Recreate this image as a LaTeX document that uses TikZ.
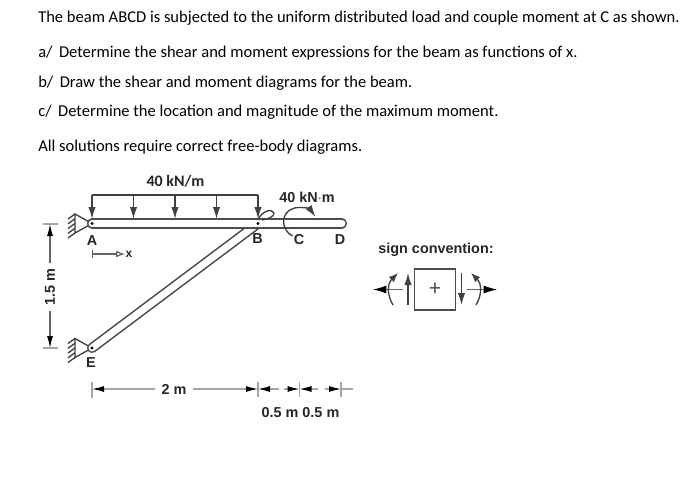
\documentclass[tikz,border=0pt]{standalone}
\usepackage{fontspec}
\setmainfont{Carlito}
\newfontfamily\labelfont{Liberation Sans}
\usetikzlibrary{arrows.meta}
\begin{document}
\begin{tikzpicture}[x=.75pt,y=-.75pt,>={Latex[length=9pt,width=5.5pt]},
  line/.style={draw=black!75,line width=1pt},
  dim/.style={draw=black!35,line width=.8pt},
  dimarrow/.style={draw=black!35,line width=.8pt,->,>={Latex[length=9pt,width=4.5pt,black]}},
  member/.style={draw=black!70,line width=1.2pt,double=white,double distance=5.2pt,line cap=round},
  pin/.style={circle,fill=black,inner sep=0pt,minimum size=2.6pt},
  para/.style={anchor=west,inner sep=0pt,font=\fontsize{12.4pt}{15pt}\selectfont},
  lab/.style={inner sep=0pt,font=\labelfont\bfseries\fontsize{10.8pt}{12pt}\selectfont,text=black!85}]
  \useasboundingbox (0,0) rectangle (700,482);
  \fill[white] (0,0) rectangle (700,482);
  \node[para] (title) at (38,18) {The beam ABCD is subjected to the uniform distributed load and couple moment at C as shown.};
  \node[para] (parta) at (38,53.5) {a/\, Determine the shear and moment expressions for the beam as functions of x.};
  \node[para] (partb) at (38,83) {b/\, Draw the shear and moment diagrams for the beam.};
  \node[para] (partc) at (38,112) {c/\, Determine the location and magnitude of the maximum moment.};
  \node[para] (note) at (38,147.5) {All solutions require correct free-body diagrams.};
  \node[pin] (A) at (92,223.5) {};
  \node[pin] (B) at (258,223.5) {};
  \node[pin] (E) at (92,348) {};
  \coordinate (D) at (342,223.5);
  \foreach \pt/\y in {A/214,E/338.5}{
    \coordinate (\pt top) at (75,\y);
    \coordinate (\pt bot) at (75,\y+19);
    \draw[line] (\pt top) -- (\pt.center) -- (\pt bot) -- cycle;
    \foreach \k in {0,4.75,9.5,14.25,19}
      \draw[line] (75,\y+\k) -- (68,\y+\k+5);
  }
  \draw[member] (E.center) -- (B.center);
  \draw[member] (A.center) -- (D);
  \node[pin] at (A) {};
  \node[pin] at (B) {};
  \node[pin] at (E) {};
  \coordinate (q0) at (92,195);
  \coordinate (q4) at (258,195);
  \draw[line] (q0) -- (q4);
  \foreach \x in {92,133.5,175,216.5,258}
    \draw[line,->] (\x,195) -- (\x,219);
  \node[inner sep=0pt,font=\bfseries\fontsize{12pt}{14pt}\selectfont,text=black!85] (q) at (175.5,181.5) {40 kN/m};
  \node[lab] (Alab) at (92,241) {A};
  \node[lab] (Blab) at (257.5,239) {B};
  \node[lab] (Clab) at (299,239.5) {C};
  \node[lab] (Dlab) at (340,239.5) {D};
  \node[lab] (Elab) at (91,363) {E};
  \draw[line] (B.center) ++(0,-4) .. controls (262,211) and (272,208) .. (274,213) .. controls (274,217) and (268,219) .. (262,220);
  \node[lab] (M) at (307,197) {40 kN$\cdot$m};
  \draw[line,->] (292.5,236) .. controls (281,230) and (280,213) .. (293,208.5) .. controls (300,206) and (310,209) .. (315.5,217);
  \node[lab,font=\labelfont\bfseries\fontsize{9pt}{10pt}\selectfont] (xlab) at (129,254) {x};
  \coordinate (x0) at (92,254);
  \draw[draw=black!60,line width=.9pt,{Bar[width=6pt]}-{Latex[open,length=7pt,width=5pt]}] (x0) -- (xlab.west);
  \draw[dim] (43,224) -- (58,224);
  \draw[dim] (43,348) -- (58,348);
  \node[lab,rotate=90] (h) at (50,287) {1.5 m};
  \draw[dimarrow,draw=black!60] (h.east) ++(0,-5) -- (50,224);
  \draw[dimarrow,draw=black!60] (h.west) ++(0,5) -- (50,348);
  \node[lab] (w) at (174,389) {2 m};
  \draw[dim] (92,382) -- (92,398);
  \foreach \x in {258,299.5,341}
    \draw[dim] (\x,382) -- (\x,397);
  \draw[dimarrow] (w.west) ++(-6,0) -- (92,389);
  \draw[dimarrow] (w.east) ++(6,0) -- (258,389);
  \draw[dimarrow] (284,389) -- (299.5,389);
  \draw[dimarrow] (279,389) -- (258,389);
  \draw[dimarrow] (318,389) -- (299.5,389);
  \draw[dimarrow] (325,389) -- (341,389);
  \draw[dim] (341,389) -- (353,389);
  \node[lab] (half) at (300.5,412.5) {0.5 m 0.5 m};
  \node[lab] (sign) at (436,249.5) {sign convention:};
  \node[draw=black!70,line width=1.1pt,minimum size=31pt,inner sep=0pt,font=\fontsize{17pt}{18pt}\selectfont,text=black!70] (box) at (435,289.5) {+};
  \draw[line,->] (408,305) -- (408,273);
  \draw[line,->] (461.5,273) -- (461.5,305);
  \draw[dimarrow,draw=black!60,>={Latex[length=10pt,width=6pt,black]}] (403,289.5) -- (373,289.5);
  \draw[dimarrow,draw=black!60,>={Latex[length=10pt,width=6pt,black]}] (467,289.5) -- (497,289.5);
  \draw[line,->,>={Latex[length=7pt,width=5.5pt]}] (393,305) .. controls (387,295) and (387,284) .. (398,273);
  \draw[line,->,>={Latex[length=7pt,width=5.5pt]}] (476,305) .. controls (482,295) and (482,284) .. (471,273);
\end{tikzpicture}
\end{document}
